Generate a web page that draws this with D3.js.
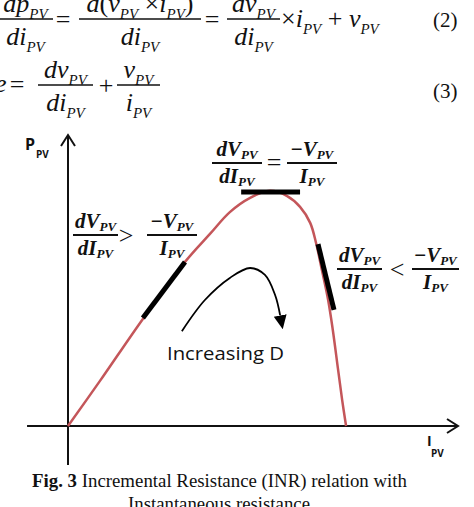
<!DOCTYPE html>
<html>
<head>
<meta charset="utf-8">
<script src="https://cdn.jsdelivr.net/npm/d3@7"></script>
<style>
  body { margin: 0; background: #fff; }
</style>
</head>
<body>
<svg id="fig" width="474" height="507"></svg>
<script>
// P-I curve (both in % of axis length)
var curveI = [0, 8.2, 19.2, 30.0, 36.4, 41.5, 46.7, 51.8, 56.2, 59.5, 62.1, 63.6, 65.1, 66.7, 67.9, 69.2, 70.3, 71.3];
var curveP = [0, 15.5, 36.8, 56.4, 66.0, 73.5, 78.4, 80.8, 79.0, 75.3, 69.8, 62.9, 53.6, 43.3, 33.0, 19.9, 8.9, 0];

// black tangent bars: [I1, P1, I2, P2]
var tangents = [
  [19.2, 37.1, 30.0, 56.4],
  [44.4, 80.4, 59.5, 80.4],
  [64.1, 62.5, 68.2, 39.9]
];

// "Increasing D" curved arrow
var arrowI = [29.2, 35.1, 41.5, 46.7, 50.5, 53.1, 54.4];
var arrowP = [32.6, 43.3, 50.9, 54.3, 51.9, 45.0, 38.0];

// axis extents (below/left of origin, arrow tip)
var axisI = [-10.5, 100];
var axisP = [-13.4, 100];

var svg = d3.select("#fig");

var x = d3.scaleLinear().domain([0, 100]).range([68, 458]);
var y = d3.scaleLinear().domain([0, 100]).range([426, 135]);

// ---------- equations at the top ----------
// parts: "_xx" = subscript, "|xx" = upright
function mtext(g, px, py, parts, o) {
  var t = g.append("text")
    .attr("x", px).attr("y", py)
    .attr("text-anchor", o.anchor || "middle")
    .attr("font-family", o.family)
    .attr("font-size", o.size)
    .attr("font-style", "italic")
    .attr("font-weight", o.weight || "normal")
    .attr("fill", "#111");
  var down = 0;
  parts.forEach(function(p) {
    var s = t.append("tspan");
    if (p[0] == "_") {
      s.text(p.slice(1)).attr("font-size", o.sub).attr("dy", o.shift);
      down = o.shift;
      return;
    }
    if (down) { s.attr("dy", -down); down = 0; }
    if (p[0] == "|") s.text(p.slice(1)).attr("font-style", "normal");
    else s.text(p);
  });
  return t;
}

function frac(g, x1, x2, barY, num, den, o) {
  var cx = (x1 + x2) / 2;
  g.append("line").attr("x1", x1).attr("x2", x2).attr("y1", barY).attr("y2", barY)
    .attr("stroke", "#111").attr("stroke-width", o.bar);
  mtext(g, cx, barY - o.numGap, num, o);
  mtext(g, cx, barY + o.denGap, den, o);
}

var eq = svg.append("g");
var eo = { family: "Liberation Serif", size: 26, sub: 15, shift: 7, bar: 1.6, numGap: 7, denGap: 26 };

// (2)
frac(eq, -2, 53, 19, ["dp", "_PV"], ["di", "_PV"], eo);
mtext(eq, 63, 28, ["|="], eo);
frac(eq, 79, 201, 19, ["d", "|(", "v", "_PV", "| ×", "i", "_PV", "|)"], ["di", "_PV"], eo);
mtext(eq, 212, 28, ["|="], eo);
frac(eq, 227, 280, 19, ["dv", "_PV"], ["di", "_PV"], eo);
mtext(eq, 281, 27, ["|×", "i", "_PV", "| + ", "v", "_PV"], Object.assign({}, eo, { anchor: "start" }));
mtext(eq, 433, 27, ["|(2)"], Object.assign({}, eo, { anchor: "start", size: 21 }));

// (3)
mtext(eq, -5, 92, ["e"], Object.assign({}, eo, { anchor: "start" }));
mtext(eq, 17, 93, ["|="], eo);
frac(eq, 38, 93, 85, ["dv", "_PV"], ["di", "_PV"], eo);
mtext(eq, 106, 94, ["|+"], eo);
frac(eq, 117, 160, 85, ["v", "_PV"], ["i", "_PV"], eo);
mtext(eq, 433, 98, ["|(3)"], Object.assign({}, eo, { anchor: "start", size: 21 }));

// ---------- axes ----------
var ax = svg.append("g").attr("stroke", "#111").attr("stroke-width", 2).attr("fill", "none");
ax.append("line").attr("x1", x(axisI[0])).attr("x2", x(axisI[1])).attr("y1", y(0)).attr("y2", y(0));
ax.append("line").attr("x1", x(0)).attr("x2", x(0)).attr("y1", y(axisP[0])).attr("y2", y(axisP[1]));
ax.append("polyline").attr("points", [[x(axisI[1]) - 11, y(0) - 7], [x(axisI[1]), y(0)], [x(axisI[1]) - 11, y(0) + 7]].join(" "));
ax.append("polyline").attr("points", [[x(0) - 7, y(axisP[1]) + 11], [x(0), y(axisP[1])], [x(0) + 7, y(axisP[1]) + 11]].join(" "));

svg.append("text").attr("x", 25).attr("y", 150).attr("font-family", "Open Sans").attr("font-weight", "bold")
  .attr("font-size", 16).attr("fill", "#111").text("P");
svg.append("text").attr("x", 36).attr("y", 158).attr("font-family", "Open Sans").attr("font-weight", "bold")
  .attr("font-size", 10).attr("fill", "#111").text("PV");
svg.append("text").attr("x", 427).attr("y", 446).attr("font-family", "Open Sans").attr("font-weight", "bold")
  .attr("font-size", 14).attr("fill", "#111").text("I");
svg.append("text").attr("x", 431).attr("y", 457).attr("font-family", "Open Sans").attr("font-weight", "bold")
  .attr("font-size", 10).attr("fill", "#111").text("PV");

// ---------- P-I curve ----------
var line = d3.line().x(function(d) { return x(d[0]); }).y(function(d) { return y(d[1]); })
  .curve(d3.curveCatmullRom.alpha(0.5));

svg.append("path").datum(d3.zip(curveI, curveP))
  .attr("d", line).attr("fill", "none")
  .attr("stroke", "#c4565a").attr("stroke-width", 2.5);

svg.selectAll(".tan").data(tangents).enter().append("line")
  .attr("class", "tan")
  .attr("x1", function(d) { return x(d[0]); }).attr("y1", function(d) { return y(d[1]); })
  .attr("x2", function(d) { return x(d[2]); }).attr("y2", function(d) { return y(d[3]); })
  .attr("stroke", "#000").attr("stroke-width", 5);

// ---------- curved arrow ----------
svg.append("defs").append("marker")
  .attr("id", "tri").attr("markerUnits", "userSpaceOnUse")
  .attr("viewBox", "0 -7 14 14").attr("refX", 0).attr("refY", 0)
  .attr("markerWidth", 14).attr("markerHeight", 14).attr("orient", "auto")
  .append("path").attr("d", "M0,-6.5L14,0L0,6.5Z").attr("fill", "#000");

svg.append("path").datum(d3.zip(arrowI, arrowP))
  .attr("d", line).attr("fill", "none")
  .attr("stroke", "#000").attr("stroke-width", 1.8)
  .attr("marker-end", "url(#tri)");

svg.append("text").attr("x", 167).attr("y", 360)
  .attr("font-family", "Open Sans").attr("font-size", 18).attr("fill", "#111")
  .attr("textLength", 117).attr("lengthAdjust", "spacingAndGlyphs")
  .text("Increasing D");

// ---------- slope conditions ----------
var lb = svg.append("g");
var lo = { family: "Liberation Serif", weight: "bold", size: 21, sub: 13, shift: 3, bar: 2, numGap: 7, denGap: 20 };
var op = Object.assign({}, lo, { weight: "normal", size: 26 });
var dvdi = [["dV", "_PV"], ["dI", "_PV"]];
var vi = [["|\u2212", "V", "_PV"], ["I", "_PV"]];

frac(lb, 73, 118, 235, dvdi[0], dvdi[1], lo);
mtext(lb, 126, 244, ["|>"], op);
frac(lb, 147, 197, 235, vi[0], vi[1], lo);

frac(lb, 212, 262, 163, dvdi[0], dvdi[1], lo);
mtext(lb, 274, 171, ["|="], op);
frac(lb, 287, 337, 163, vi[0], vi[1], lo);

frac(lb, 337, 382, 269, dvdi[0], dvdi[1], lo);
mtext(lb, 397, 278, ["|<"], op);
frac(lb, 412, 459, 269, vi[0], vi[1], lo);

// ---------- caption ----------
var cap = svg.append("text").attr("x", 32).attr("y", 487)
  .attr("font-family", "Liberation Serif").attr("font-size", 19).attr("fill", "#111")
  .attr("textLength", 375).attr("lengthAdjust", "spacingAndGlyphs");
cap.append("tspan").attr("font-weight", "bold").text("Fig. 3");
cap.append("tspan").text(" Incremental Resistance (INR) relation with");
svg.append("text").attr("x", 128).attr("y", 510)
  .attr("font-family", "Liberation Serif").attr("font-size", 19).attr("fill", "#111")
  .attr("textLength", 182).attr("lengthAdjust", "spacingAndGlyphs")
  .text("Instantaneous resistance");
</script>
</body>
</html>
